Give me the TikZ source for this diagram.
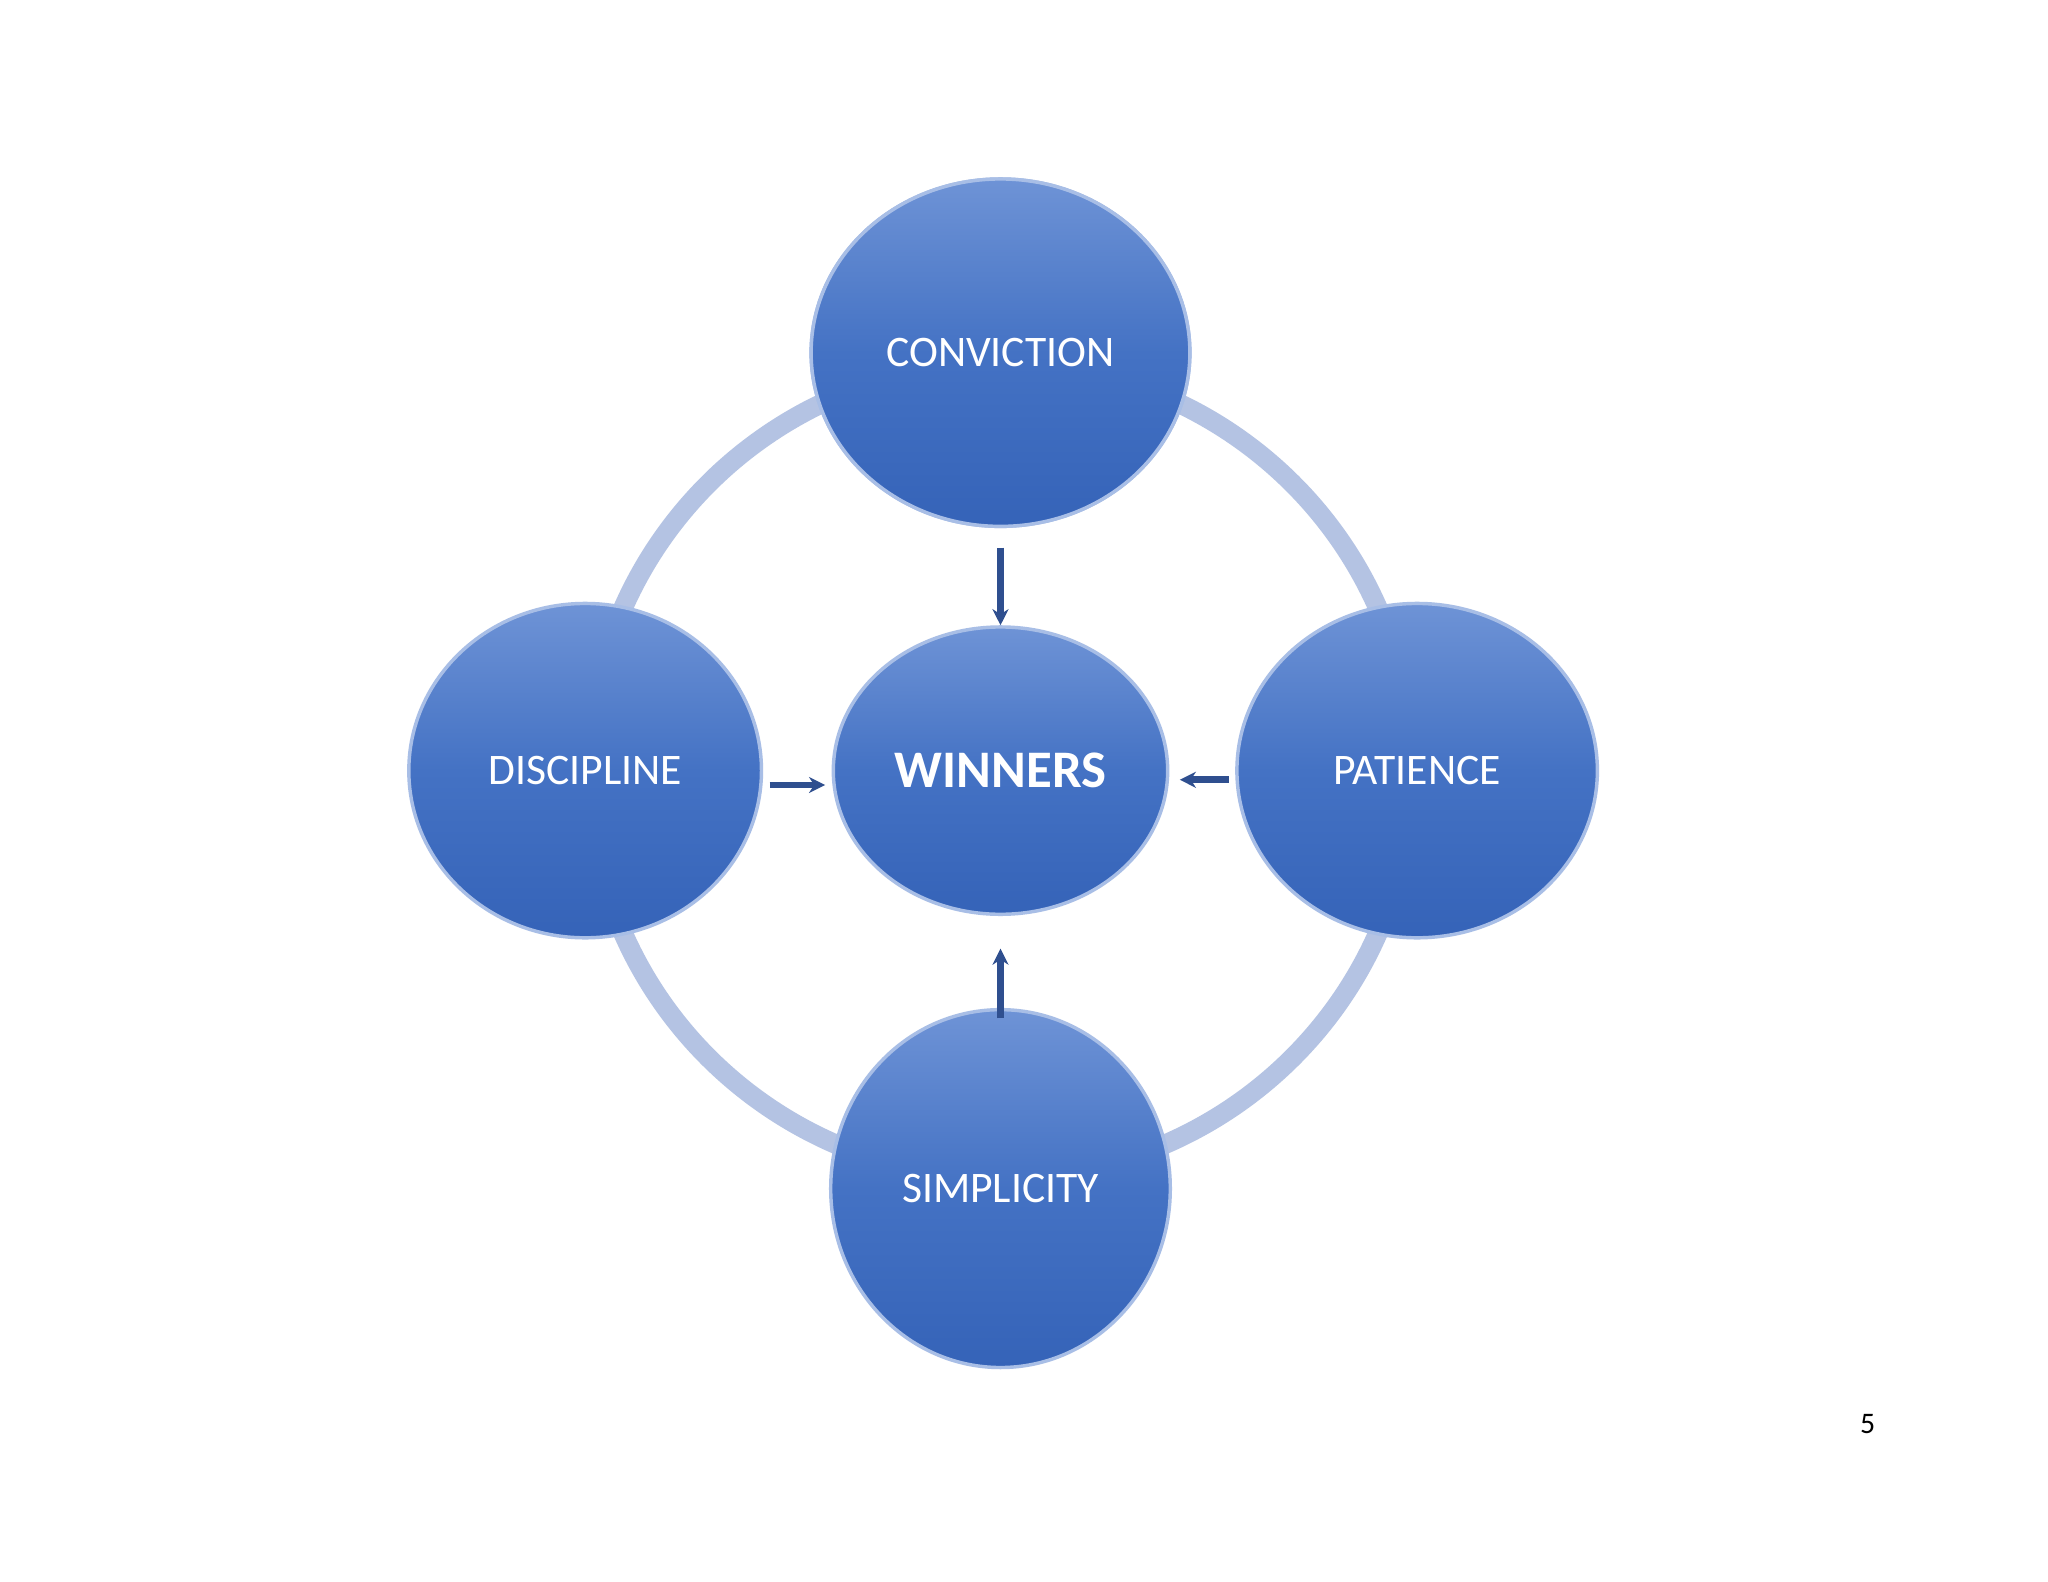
\documentclass[tikz,border=0pt]{standalone}
\usepackage{fontspec}
\setmainfont{Carlito}
\usetikzlibrary{shapes.geometric,arrows.meta}
\definecolor{cb}{HTML}{4472C4}
\definecolor{cbd}{HTML}{3563B8}
\definecolor{cbl}{HTML}{6E93D6}
\definecolor{ring}{HTML}{B4C3E3}
\definecolor{arr}{HTML}{2F4F8F}
\begin{document}
\begin{tikzpicture}[x=0.02cm,y=-0.02cm,
  bub/.style={ellipse,draw=cbl!60!white,line width=1.5pt,top color=cbl,bottom color=cbd,middle color=cb,text=white,font=\fontsize{19}{22}\selectfont,inner sep=0pt},
  ar/.style={-{Stealth[length=7pt,width=7pt]},arr,line width=3pt}]
\useasboundingbox (0,0) rectangle (1568,1211);
\fill[white] (0,0) rectangle (1568,1211);
\draw[ring,line width=8.5pt] (766,590) ellipse [x radius=315,y radius=312];
\node[bub,minimum width=290\pgflinewidth/1.5pt*0.02cm,minimum height=266*0.02cm] (c) at (766,270) {};
\node[bub,minimum width=290*0.02cm,minimum height=266*0.02cm] (c) at (766,270) {CONVICTION};
\node[bub,minimum width=256*0.02cm,minimum height=220*0.02cm,font=\fontsize{23}{26}\selectfont\bfseries] (w) at (766,590) {WINNERS};
\node[bub,minimum width=270*0.02cm,minimum height=256*0.02cm] (d) at (448,590) {DISCIPLINE};
\node[bub,minimum width=276*0.02cm,minimum height=256*0.02cm] (p) at (1085,590) {PATIENCE};
\node[bub,minimum width=260*0.02cm,minimum height=274*0.02cm] (s) at (766,910) {SIMPLICITY};
\draw[ar] ([yshift=-15*0.02cm]c.south) -- (w.north);
\draw[ar] ([xshift=5*0.02cm,yshift=-11*0.02cm]d.east) -- ([xshift=-5*0.02cm,yshift=-11*0.02cm]w.west);
\draw[ar] ([xshift=-5*0.02cm,yshift=-7*0.02cm]p.west) -- ([xshift=8*0.02cm,yshift=-7*0.02cm]w.east);
\draw[ar] ([yshift=-8*0.02cm]s.north) -- ([yshift=-25*0.02cm]w.south);
\node[font=\fontsize{13}{15}\selectfont] (n) at (1430,1090) {5};
\end{tikzpicture}
\end{document}
